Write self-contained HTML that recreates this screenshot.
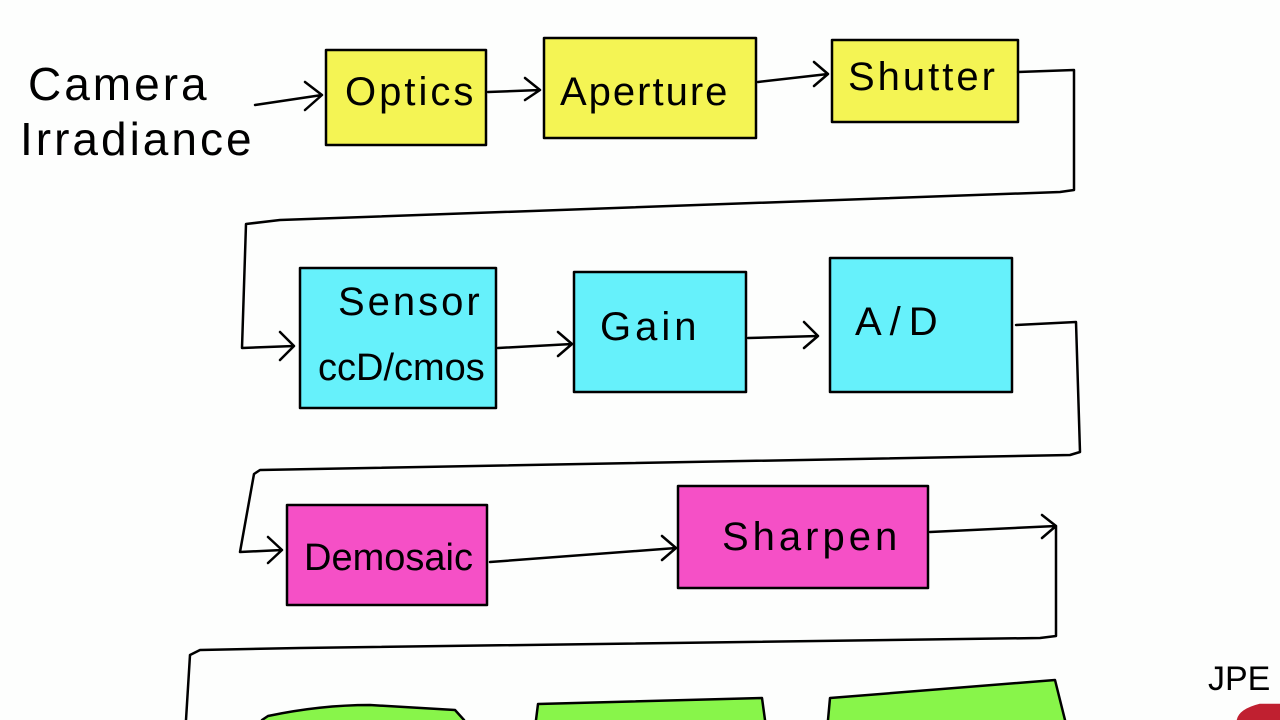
<!DOCTYPE html>
<html><head><style>body{margin:0;background:#fdfefd;}svg{display:block}</style></head><body>
<svg width="1280" height="720" xmlns="http://www.w3.org/2000/svg" font-family="Liberation Sans, sans-serif">
<rect width="1280" height="720" fill="#fdfefd"/>
<g fill="none" stroke="#000" stroke-width="2.5" stroke-linecap="round" stroke-linejoin="round">
<rect x="326" y="50" width="160" height="95" fill="#f4f454"/>
<rect x="544" y="38" width="212" height="100" fill="#f4f454"/>
<rect x="832" y="40" width="186" height="82" fill="#f4f454"/>
<rect x="300" y="268" width="196" height="140" fill="#66f1fb"/>
<rect x="574" y="272" width="172" height="120" fill="#66f1fb"/>
<rect x="830" y="258" width="182" height="134" fill="#66f1fb"/>
<rect x="287" y="505" width="200" height="100" fill="#f550c6"/>
<rect x="678" y="486" width="250" height="102" fill="#f550c6"/>
<path d="M262 720 L268 716 Q320 705 370 705 L455 710 L464 720" fill="#88f54a"/>
<path d="M536 720 L538 704 L762 698 L765 720" fill="#88f54a"/>
<path d="M828 720 L830 698 L1055 680 L1065 720" fill="#88f54a"/>
<path d="M1238 720 Q1240 710 1260 705 L1280 705 L1280 720" fill="#c02030" stroke="#c02030"/>
<path d="M255 105 L322 95 M305 82 L322 95 L305 110"/>
<path d="M488 92 L540 90 M525 78 L540 90 L525 100"/>
<path d="M758 82 L828 74 M814 62 L828 74 L814 86"/>
<path d="M1018 72 L1074 70 L1074 190 L1060 192 L280 220 L246 224 L242 348 L294 346 M280 332 L294 346 L280 360"/>
<path d="M498 348 L572 344 M558 332 L572 344 L558 356"/>
<path d="M748 338 L818 336 M804 322 L818 336 L804 348"/>
<path d="M1016 325 L1076 322 L1080 452 L1070 455 L260 470 L254 474 L240 552 L282 550 M268 537 L282 550 L268 563"/>
<path d="M490 562 L676 548 M662 536 L676 548 L662 560"/>
<path d="M930 532 L1056 526 L1056 636 L1040 638 L300 648 L200 650 L190 655 L186 720 M1042 515 L1056 526 L1042 538"/>
</g>
<g font-size="40" fill="#000">
<text x="28" y="100" font-size="46" letter-spacing="3">Camera</text>
<text x="20" y="155" font-size="46" letter-spacing="3">Irradiance</text>
<text x="345" y="105" letter-spacing="3">Optics</text>
<text x="560" y="105" letter-spacing="2">Aperture</text>
<text x="848" y="90" letter-spacing="3">Shutter</text>
<text x="338" y="315" letter-spacing="3">Sensor</text>
<text x="318" y="380" font-size="38">ccD/cmos</text>
<text x="600" y="340" letter-spacing="4">Gain</text>
<text x="855" y="335" letter-spacing="8">A/D</text>
<text x="304" y="570" font-size="38">Demosaic</text>
<text x="722" y="550" letter-spacing="4">Sharpen</text>
<text x="1208" y="690" font-size="34">JPE</text>
</g>
</svg>
</body></html>
